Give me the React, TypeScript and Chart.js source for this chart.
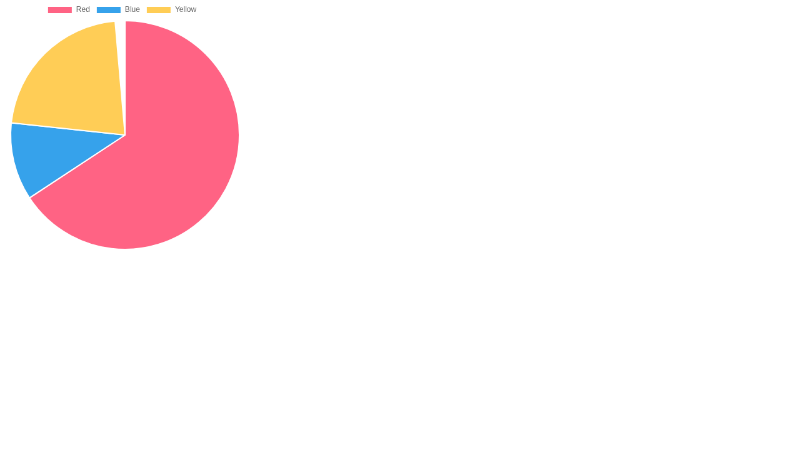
import { useEffect, useRef } from 'react'
import Chart from 'chart.js/auto';

const labels = ['Red', 'Blue', 'Yellow'];
const values = [300, 50, 100];
const colors = ['rgb(255, 99, 132)', 'rgb(54, 162, 235)', 'rgb(255, 205, 86)'];

// older Chart.js centred the legend row without the half padding, so nudge it back
const legendShift = {
    id: 'legendShift',
    afterLayout(chart: any) {
        const legend = chart.legend;
        if (legend) {
            const dx = legend.options.labels.padding / 2;
            legend.left -= dx;
            legend.right -= dx;
        }
    }
};

const App = () => {
    const chartRef = useRef<HTMLCanvasElement>(null);

    useEffect(() => {
        if (!chartRef.current) return;
        // drawn at 400x400 and shown at 250x250, like the original
        const myChart = new Chart(chartRef.current, {
            type: 'pie',
            data: {
                labels: labels,
                datasets: [
                    {
                        label: 'My First Dataset',
                        data: values,
                        backgroundColor: colors,
                    }
                ]
            },
            options: {
                animation: false,
                responsive: false,
                devicePixelRatio: 1,
                circumference: 355,
                plugins: {
                    legend: {
                        position: 'top',
                        labels: {
                            color: '#666',
                            font: { family: 'Arial, "Liberation Sans", sans-serif', size: 12 },
                        },
                    },
                    tooltip: { enabled: false },
                }
            },
            plugins: [legendShift],
        });
        return () => {
            myChart.destroy();
        }
    }, []);

    return (
        <canvas
            ref={chartRef}
            width="400"
            height="400"
            style={{ position: 'absolute', left: 0, top: 0, width: 250, height: 250 }}
        />
    );
}

export default App;
